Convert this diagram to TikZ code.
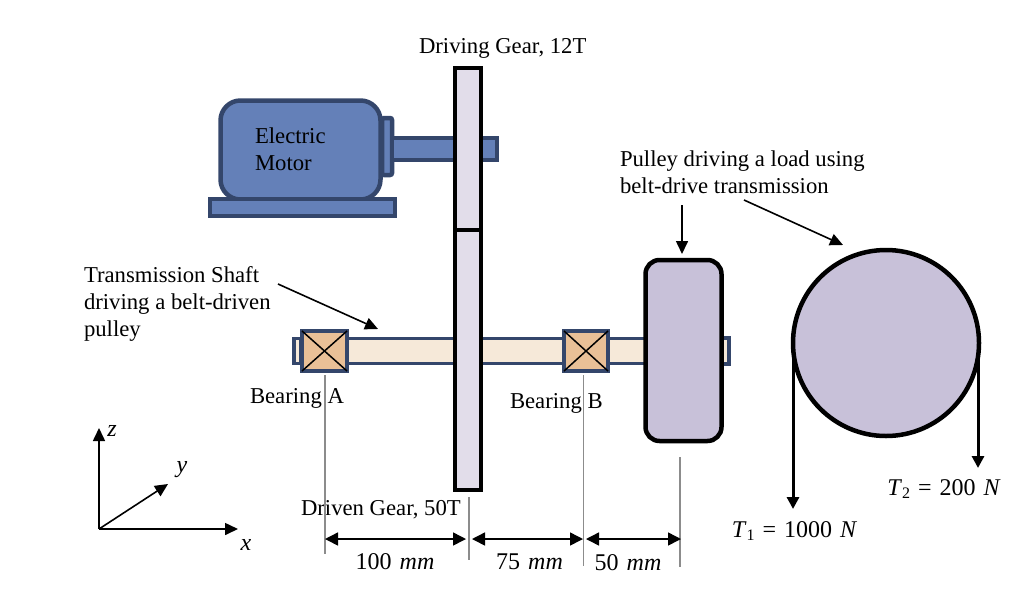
\documentclass[tikz,border=0pt]{standalone}
\usepackage{fontspec}
\setmainfont{Liberation Serif}
\usetikzlibrary{arrows.meta}

\definecolor{motorblue}{HTML}{6480B8}
\definecolor{darkblue}{HTML}{34466B}
\definecolor{gearfill}{HTML}{E2DDEA}
\definecolor{shaftfill}{HTML}{F6E9D9}
\definecolor{bearfill}{HTML}{E9C097}
\definecolor{pulleyfill}{HTML}{C8C1D9}
\definecolor{leader}{HTML}{8C8C8C}

\begin{document}
\begin{tikzpicture}[x=1pt,y=-1pt,
    every node/.style = {inner sep=0pt, outer sep=0pt,
      font=\fontsize{22.7}{27}\selectfont},
    box/.style    = {draw, minimum width=#1},
    motor/.style  = {box=#1, fill=motorblue, draw=darkblue, line width=4.5pt},
    axle/.style   = {box=#1, fill=shaftfill, draw=darkblue, line width=3.5pt},
    gear/.style   = {box=#1, fill=gearfill, draw=black, line width=3.5pt},
    bear/.style   = {box=#1, fill=bearfill, draw=darkblue, line width=4.5pt},
    lab/.style    = {align=left, anchor=west},
    maths/.style  = {font=\fontsize{24}{27}\selectfont},
    call/.style   = {-{Triangle[length=13pt,width=12pt]}, line width=1.6pt},
    pull/.style   = {-{Triangle[length=12pt,width=12pt]}, line width=3pt},
    dim/.style    = {{Triangle[length=13pt,width=13pt]}-{Triangle[length=13pt,width=13pt]}, line width=1.5pt},
    ext/.style    = {draw=leader, line width=1.1pt},
  ]
  \useasboundingbox (0,0) rectangle (1024,600);

  \node[motor=10, minimum height=57, rounded corners=2pt] (flange) at (387,146.5) {};
  \node[motor=105, minimum height=22] (mshaft) at (444.5,149) {};
  \node[motor=160, minimum height=99, rounded corners=20pt] (body) at (300.5,150) {};
  \node[motor=185, minimum height=17] (base) at (302.5,207.5) {};

  \node[axle=7, minimum height=25] (stubA) at (297.5,351) {};
  \node[axle=8, minimum height=26] (stubB) at (725,351) {};
  \node[axle=400, minimum height=25] (shaft) at (512,351) {};
  \node[bear=45, minimum height=40] (bearA) at (324.5,351) {};
  \node[bear=44, minimum height=40] (bearB) at (586,351) {};
  \draw[line width=1.5pt] (bearA.north west) -- (bearA.south east)
    (bearA.north east) -- (bearA.south west);
  \draw[line width=1.5pt] (bearB.north west) -- (bearB.south east)
    (bearB.north east) -- (bearB.south west);

  \node[gear=26, minimum height=162] (gearT) at (468,149) {};
  \node[gear=26, minimum height=260] (gearD) at (468,360) {};

  \node[draw=black, fill=pulleyfill, line width=4.5pt, minimum width=76,
    minimum height=181, rounded corners=14pt] (pulley) at (683.5,350.5) {};
  \node[draw=black, fill=pulleyfill, line width=4.5pt, circle,
    minimum size=186] (wheel) at (886,343) {};

  \node[lab] (tdrive) at (419,48) {Driving Gear, 12T};
  \node[lab] (tmotor) at (255,149) {Electric\\Motor};
  \node[lab] (tbelt) at (620,172.5) {Pulley driving a load using\\belt-drive transmission};
  \node[lab] (ttrans) at (84,304) {Transmission Shaft\\driving a belt-driven\\pulley};
  \node[lab] (tbearA) at (250,398) {Bearing A};
  \node[lab] (tbearB) at (510,403) {Bearing B};
  \node[lab] (tdriven) at (301,510) {Driven Gear, 50T};
  \node[maths] (t100) at (395,562) {100\,\,\textit{mm}};
  \node[maths] (t75) at (529.5,562) {75\,\,\textit{mm}};
  \node[maths] (t50) at (628,563) {50\,\,\textit{mm}};
  \node[maths] (tone) at (794.5,531) {\textit{T}\raisebox{-3pt}{\fontsize{16}{16}\selectfont 1}\,\,=\,\,1000\,\,\textit{N}};
  \node[maths] (ttwo) at (944,489) {\textit{T}\raisebox{-3pt}{\fontsize{16}{16}\selectfont 2}\,\,=\,\,200\,\,\textit{N}};
  \node[maths] (lz) at (112,431) {\textit{z}};
  \node[maths] (ly) at (182,470) {\textit{y}};
  \node[maths] (lx) at (246,545) {\textit{x}};

  \coordinate (cA) at (325,375);
  \coordinate (eA) at (325,554);
  \coordinate (cG) at (469,497);
  \coordinate (eG) at (469,560);
  \coordinate (cB) at (583.5,375);
  \coordinate (eB) at (583.5,566);
  \coordinate (cP) at (680,457);
  \coordinate (eP) at (680,567);
  \path[ext] (cA) edge (eA) (cG) edge (eG) (cB) edge (eB) (cP) edge (eP);

  \coordinate (d1) at (325,539);
  \coordinate (d2) at (466,539);
  \coordinate (d3) at (472,539);
  \coordinate (d4) at (583,539);
  \coordinate (d5) at (586,539);
  \coordinate (d6) at (681,539);
  \draw[dim] (d1) -- (d2);
  \draw[dim] (d3) -- (d4);
  \draw[dim] (d5) -- (d6);

  \coordinate (o) at (99,529);
  \coordinate (az) at (99,428);
  \coordinate (ay) at (168,484);
  \coordinate (ax) at (238,529);
  \draw[call] (o) -- (az);
  \draw[call] (o) -- (ay);
  \draw[call] (o) -- (ax);

  \coordinate (s1) at (278,284);
  \coordinate (e1) at (378,329);
  \coordinate (s2) at (682,205);
  \coordinate (e2) at (682,254);
  \coordinate (s3) at (744,200);
  \coordinate (e3) at (843,245);
  \draw[call] (s1) -- (e1);
  \draw[call] (s2) -- (e2);
  \draw[call] (s3) -- (e3);

  \coordinate (f1) at (793,509);
  \coordinate (f2) at (978,468);
  \coordinate (w1) at (793,343);
  \coordinate (w2) at (978,343);
  \draw[pull] (w1) -- (f1);
  \draw[pull] (w2) -- (f2);
\end{tikzpicture}
\end{document}
